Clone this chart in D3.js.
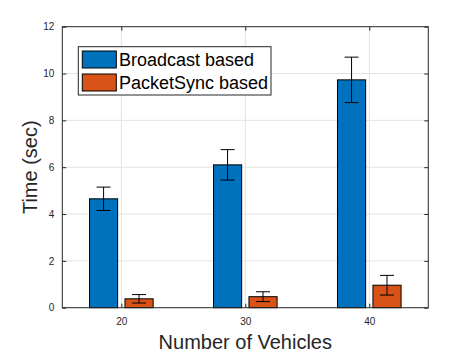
<!DOCTYPE html>
<html><head><meta charset="utf-8">
<script src="https://cdn.jsdelivr.net/npm/d3@7"></script>
<style>body{margin:0;background:#fff}svg{display:block}text{font-family:"Liberation Sans",Arial,sans-serif}</style>
</head><body>
<svg id="c" width="474" height="355"></svg>
<script>
const categories = [20, 30, 40];
const seriesNames = ["Broadcast based", "PacketSync based"];
const broadcast = [4.65, 6.10, 9.73];
const broadcastErr = [0.50, 0.65, 0.97];
const packetSync = [0.38, 0.47, 0.96];
const packetSyncErr = [0.18, 0.21, 0.42];
const yTicks = [0, 2, 4, 6, 8, 10, 12];
const colors = ["#0072BD", "#D95319"];

const svg = d3.select("#c");
const L = 62.3, R = 428.3, T = 26.7, B = 307.7;
const x = d3.scaleLinear().domain([15.24, 44.76]).range([L, R]);
const y = d3.scaleLinear().domain([0, 12]).range([B, T]);
const axisColor = "#262626";

// grid
const g = svg.append("g");
g.selectAll(".gy").data(yTicks.slice(1, -1)).join("line")
  .attr("x1", L).attr("x2", R).attr("y1", d => y(d)).attr("y2", d => y(d))
  .attr("stroke", "#e3e3e3").attr("stroke-width", 1);
g.selectAll(".gx").data(categories).join("line")
  .attr("x1", d => x(d)).attr("x2", d => x(d)).attr("y1", T).attr("y2", B)
  .attr("stroke", "#e3e3e3").attr("stroke-width", 1);

// bars
const offset = 1.43, bw = 2.27;
const series = [
  {vals: broadcast, err: broadcastErr, off: -offset, color: colors[0]},
  {vals: packetSync, err: packetSyncErr, off: offset, color: colors[1]}
];
series.forEach(s => {
  const data = categories.map((c, i) => ({c, v: s.vals[i], e: s.err[i]}));
  svg.append("g").selectAll("rect").data(data).join("rect")
    .attr("x", d => x(d.c + s.off - bw / 2))
    .attr("width", d => x(d.c + s.off + bw / 2) - x(d.c + s.off - bw / 2))
    .attr("y", d => y(d.v)).attr("height", d => y(0) - y(d.v))
    .attr("fill", s.color).attr("stroke", "#000").attr("stroke-width", 1);
  const eg = svg.append("g").attr("stroke", "#000").attr("stroke-width", 1);
  data.forEach(d => {
    const cx = x(d.c + s.off);
    eg.append("line").attr("x1", cx).attr("x2", cx).attr("y1", y(d.v + d.e)).attr("y2", y(d.v - d.e));
    eg.append("line").attr("x1", cx - 7).attr("x2", cx + 7).attr("y1", y(d.v + d.e)).attr("y2", y(d.v + d.e));
    eg.append("line").attr("x1", cx - 7).attr("x2", cx + 7).attr("y1", y(d.v - d.e)).attr("y2", y(d.v - d.e));
  });
});

// axes
const yAx = svg.append("g").attr("transform", `translate(${L},0)`)
  .call(d3.axisLeft(y).tickValues(yTicks).tickSize(-4).tickPadding(8));
const yAxR = svg.append("g").attr("transform", `translate(${R},0)`)
  .call(d3.axisRight(y).tickValues(yTicks).tickSize(-4).tickFormat(""));
const xAx = svg.append("g").attr("transform", `translate(0,${B})`)
  .call(d3.axisBottom(x).tickValues(categories).tickSize(-4).tickPadding(10));
const xAxT = svg.append("g").attr("transform", `translate(0,${T})`)
  .call(d3.axisTop(x).tickValues(categories).tickSize(-4).tickFormat(""));
[yAx, yAxR, xAx, xAxT].forEach(a => {
  a.select(".domain").remove();
  a.selectAll("line").attr("stroke", axisColor);
  a.selectAll("text").attr("fill", axisColor).style("font-size", "10px").style("font-family", "'Liberation Sans',Arial,sans-serif");
});
svg.append("rect").attr("x", L).attr("y", T).attr("width", R - L).attr("height", B - T)
  .attr("fill", "none").attr("stroke", axisColor).attr("stroke-width", 1);

// labels
svg.append("text").attr("x", x(30)).attr("y", 349).attr("text-anchor", "middle")
  .style("font-size", "20px").attr("fill", axisColor).text("Number of Vehicles");
svg.append("text").attr("transform", `translate(37,${(T + B) / 2}) rotate(-90)`)
  .attr("text-anchor", "middle").style("font-size", "20px").attr("fill", axisColor).text("Time (sec)");

// legend
const lg = svg.append("g");
lg.append("rect").attr("x", 78.3).attr("y", 46.7).attr("width", 192.7).attr("height", 48.3)
  .attr("fill", "#fff").attr("stroke", axisColor).attr("stroke-width", 1);
seriesNames.forEach((n, i) => {
  const yy = 51 + i * 23;
  lg.append("rect").attr("x", 82.3).attr("y", yy).attr("width", 34).attr("height", 17)
    .attr("fill", colors[i]).attr("stroke", "#000").attr("stroke-width", 1);
  lg.append("text").attr("x", 119).attr("y", yy + 15).style("font-size", "18px").attr("fill", "#000").text(n);
});
</script>
</body></html>
